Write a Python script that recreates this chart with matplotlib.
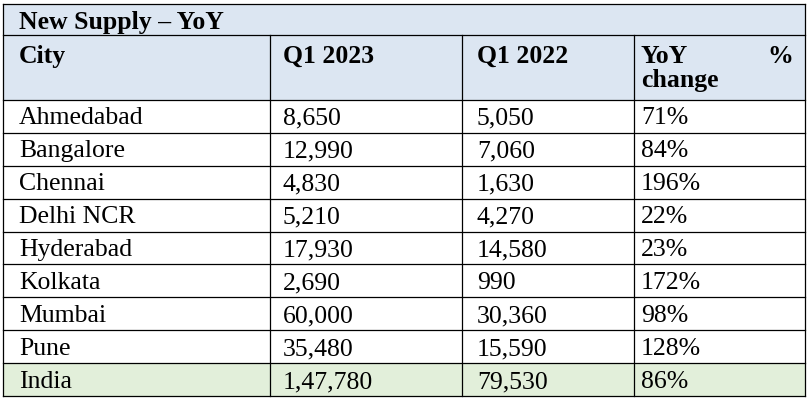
import matplotlib
matplotlib.use("Agg")
import matplotlib.pyplot as plt
from matplotlib.patches import Rectangle

title = "New Supply – YoY"
headers = ["City", "Q1 2023", "Q1 2022", "YoY % change"]
cities = ["Ahmedabad", "Bangalore", "Chennai", "Delhi NCR", "Hyderabad",
          "Kolkata", "Mumbai", "Pune", "India"]
q1_2023 = ["8,650", "12,990", "4,830", "5,210", "17,930", "2,690", "60,000",
           "35,480", "1,47,780"]
q1_2022 = ["5,050", "7,060", "1,630", "4,270", "14,580", "990", "30,360",
           "15,590", "79,530"]
yoy_change = ["71%", "84%", "196%", "22%", "23%", "172%", "98%", "128%", "86%"]

W, H = 812, 403
fig = plt.figure(figsize=(W / 100, H / 100), dpi=100)
ax = fig.add_axes([0, 0, 1, 1])
ax.set_xlim(0, W)
ax.set_ylim(H, 0)
ax.axis("off")

FONT = "Liberation Serif"
FS = 18.5
BLUE = "#DCE6F2"
GREEN = "#E2EFDA"
LW = 0.9

left, right = 3.5, 805.5
col_x = [left, 270.5, 462, 634, right]
text_x = [19, 283, 477, 641]
top = 3.5
title_bot = 35
head_bot = 100
row_h = (396 - head_bot) / len(cities)
bottom = head_bot + row_h * len(cities)

# backgrounds
ax.add_patch(Rectangle((left, top), right - left, head_bot - top, facecolor=BLUE, edgecolor="none"))
ax.add_patch(Rectangle((left, bottom - row_h), right - left, row_h, facecolor=GREEN, edgecolor="none"))

# horizontal lines
ys = [top, title_bot, head_bot] + [head_bot + row_h * (i + 1) for i in range(len(cities))]
for y in ys:
    ax.plot([left, right], [y, y], color="black", lw=LW, solid_capstyle="projecting")
# vertical lines
ax.plot([left, left], [top, bottom], color="black", lw=LW, solid_capstyle="projecting")
ax.plot([right, right], [top, bottom], color="black", lw=LW, solid_capstyle="projecting")
for x in col_x[1:-1]:
    ax.plot([x, x], [title_bot, bottom], color="black", lw=LW)

# title
ax.text(text_x[0], 29, title, fontfamily=FONT, fontsize=FS, fontweight="bold",
        va="baseline", ha="left")

# headers
hb = title_bot + 28
for i, h in enumerate(headers[:3]):
    ax.text(text_x[i], hb, h, fontfamily=FONT, fontsize=FS, fontweight="bold",
            va="baseline", ha="left")
yoy_words = headers[3].split(" ")
ax.text(text_x[3], hb, yoy_words[0], fontfamily=FONT, fontsize=FS, fontweight="bold",
        va="baseline", ha="left")
ax.text(793, hb, yoy_words[1], fontfamily=FONT, fontsize=FS, fontweight="bold",
        va="baseline", ha="right")
ax.text(text_x[3], hb + 24, yoy_words[2], fontfamily=FONT, fontsize=FS, fontweight="bold",
        va="baseline", ha="left")

# data
for r in range(len(cities)):
    yb = round(head_bot + row_h * r + 24.5)
    for c, val in enumerate([cities[r], q1_2023[r], q1_2022[r], yoy_change[r]]):
        ax.text(text_x[c], yb, val, fontfamily=FONT, fontsize=FS,
                va="baseline", ha="left")

fig.savefig("out.png", dpi=100, facecolor="white")
